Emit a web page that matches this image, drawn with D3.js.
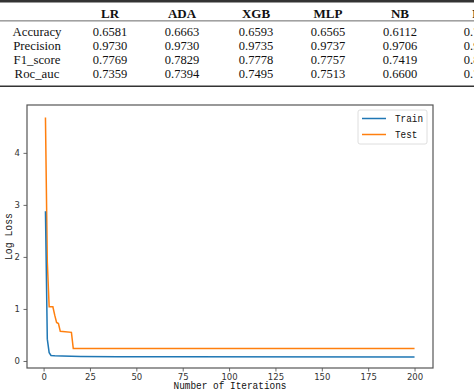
<!DOCTYPE html>
<html>
<head>
<meta charset="utf-8">
<script src="https://cdn.jsdelivr.net/npm/d3@7"></script>
<style>
  body { margin: 0; background: #fff; }
</style>
</head>
<body>
<svg width="474" height="392"></svg>
<script>
// table data
var models = ["LR", "ADA", "XGB", "MLP", "NB", "RF"];
var metrics = ["Accuracy", "Precision", "F1_score", "Roc_auc"];
var scores = [
  ["0.6581", "0.6663", "0.6593", "0.6565", "0.6112", "0.7785"],
  ["0.9730", "0.9730", "0.9735", "0.9737", "0.9706", "0.9712"],
  ["0.7769", "0.7829", "0.7778", "0.7757", "0.7419", "0.8693"],
  ["0.7359", "0.7394", "0.7495", "0.7513", "0.6600", "0.7761"]
];

// loss curves (vertices)
var trainIter = [1, 2, 3, 4, 6, 10, 20, 40, 70, 200];
var trainLoss = [2.88, 0.42, 0.16, 0.105, 0.1, 0.095, 0.088, 0.082, 0.079, 0.077];
var testIter = [1, 2, 3, 5, 6, 7, 8, 9, 15, 16, 200];
var testLoss = [4.68, 1.9, 1.04, 1.04, 0.88, 0.74, 0.72, 0.57, 0.55, 0.24, 0.24];
var xTicks = [0, 25, 50, 75, 100, 125, 150, 175, 200];
var yTicks = [0, 1, 2, 3, 4];

var svg = d3.select("svg");

// ---- table ----
var colX = d3.scaleOrdinal().domain(models).range([110, 182, 256, 328, 400, 481]);
var rowY = d3.scalePoint().domain(metrics).range([36, 78]);

svg.append("rect").attr("x", 0).attr("y", 0).attr("width", 474).attr("height", 2.5).attr("fill", "#333");
svg.append("rect").attr("x", 0).attr("y", 20.5).attr("width", 474).attr("height", 0.8).attr("fill", "#444");
svg.append("rect").attr("x", 0).attr("y", 85.5).attr("width", 474).attr("height", 1.5).attr("fill", "#333");

var tfont = "'Liberation Serif', 'DejaVu Serif', serif";

svg.selectAll("text.head")
  .data(models)
  .enter()
  .append("text")
  .attr("class", "head")
  .attr("x", function(d) { return colX(d); })
  .attr("y", 17.5)
  .attr("text-anchor", "middle")
  .style("font-family", tfont)
  .style("font-weight", "bold")
  .style("font-size", "13px")
  .style("fill", "#111")
  .text(function(d) { return d; });

svg.selectAll("text.metric")
  .data(metrics)
  .enter()
  .append("text")
  .attr("class", "metric")
  .attr("x", 37)
  .attr("y", function(d) { return rowY(d); })
  .attr("text-anchor", "middle")
  .style("font-family", tfont)
  .style("font-size", "12.8px")
  .style("fill", "#111")
  .text(function(d) { return d; });

metrics.forEach(function(m, i) {
  svg.selectAll("text.val" + i)
    .data(scores[i])
    .enter()
    .append("text")
    .attr("class", "val" + i)
    .attr("x", function(d, j) { return colX(models[j]); })
    .attr("y", rowY(m))
    .attr("text-anchor", "middle")
    .style("font-family", tfont)
    .style("font-size", "12.5px")
    .style("fill", "#111")
    .text(function(d) { return d; });
});

// ---- loss plot ----
var pLeft = 27, pRight = 433, pTop = 105, pBottom = 368;
var xScale = d3.scaleLinear().domain([-8.95, 209.95]).range([pLeft, pRight]);
var yScale = d3.scaleLinear().domain([-0.135, 4.92]).range([pBottom, pTop]);

var tickFont = "'DejaVu Sans', sans-serif";

var xAxis = d3.axisBottom(xScale).tickValues(xTicks).tickSize(3.5).tickPadding(2);
var xG = svg.append("g").attr("transform", "translate(0," + pBottom + ")").call(xAxis);
var yAxis = d3.axisLeft(yScale).tickValues(yTicks).tickFormat(d3.format("d")).tickSize(3.5).tickPadding(3.5);
var yG = svg.append("g").attr("transform", "translate(" + pLeft + ",0)").call(yAxis);

[xG, yG].forEach(function(g) {
  g.select(".domain").remove();
  g.selectAll(".tick line").attr("stroke", "#444").attr("stroke-width", 0.8);
  g.selectAll(".tick text")
    .style("font-family", tickFont)
    .style("font-size", "8.5px")
    .style("fill", "#333");
});

var trainLine = d3.line()
  .x(function(d, i) { return xScale(trainIter[i]); })
  .y(function(d) { return yScale(d); });
var testLine = d3.line()
  .x(function(d, i) { return xScale(testIter[i]); })
  .y(function(d) { return yScale(d); });

svg.append("path")
  .attr("d", testLine(testLoss))
  .attr("fill", "none")
  .attr("stroke", "#ff7f0e")
  .attr("stroke-width", 1.5);

svg.append("path")
  .attr("d", trainLine(trainLoss))
  .attr("fill", "none")
  .attr("stroke", "#1f77b4")
  .attr("stroke-width", 1.5);

// frame
svg.append("rect")
  .attr("x", pLeft).attr("y", pTop)
  .attr("width", pRight - pLeft).attr("height", pBottom - pTop)
  .attr("fill", "none")
  .attr("stroke", "#555")
  .attr("stroke-width", 1.2);

var monoFont = "'Liberation Mono', 'DejaVu Sans Mono', monospace";

// axis labels
svg.append("text")
  .attr("x", (pLeft + pRight) / 2)
  .attr("y", 389)
  .attr("text-anchor", "middle")
  .attr("textLength", 113)
  .attr("lengthAdjust", "spacingAndGlyphs")
  .style("font-family", monoFont)
  .style("font-size", "11px")
  .style("fill", "#111")
  .text("Number of Iterations");

svg.append("text")
  .attr("transform", "translate(12," + ((pTop + pBottom) / 2) + ") rotate(-90)")
  .attr("text-anchor", "middle")
  .attr("textLength", 47)
  .attr("lengthAdjust", "spacingAndGlyphs")
  .style("font-family", monoFont)
  .style("font-size", "11px")
  .style("fill", "#111")
  .text("Log Loss");

// legend
var legendNames = ["Train", "Test"];
var legendColors = ["#1f77b4", "#ff7f0e"];
var legend = svg.append("g");
legend.append("rect")
  .attr("x", 358).attr("y", 110)
  .attr("width", 69).attr("height", 34)
  .attr("rx", 2)
  .attr("fill", "#fff")
  .attr("stroke", "#d5d5d5")
  .attr("stroke-width", 0.8);

legendNames.forEach(function(name, i) {
  var ly = 118.5 + i * 16;
  legend.append("line")
    .attr("x1", 362).attr("x2", 386)
    .attr("y1", ly).attr("y2", ly)
    .attr("stroke", legendColors[i])
    .attr("stroke-width", 1.5);
  legend.append("text")
    .attr("x", 395)
    .attr("y", ly + 3.5)
    .attr("textLength", name.length * 5.6)
    .attr("lengthAdjust", "spacingAndGlyphs")
    .style("font-family", monoFont)
    .style("font-size", "10px")
    .style("fill", "#111")
    .text(name);
});
</script>
</body>
</html>
